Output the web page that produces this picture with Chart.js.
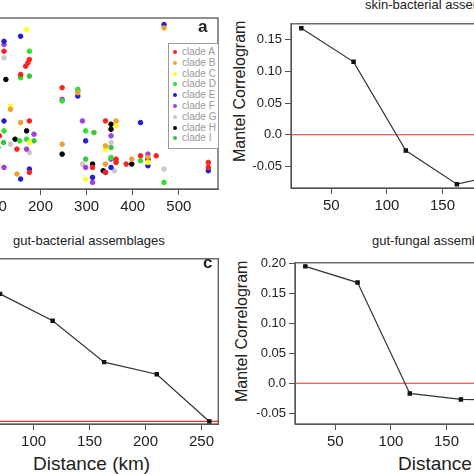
<!DOCTYPE html>
<html><head><meta charset="utf-8">
<script src="https://cdn.jsdelivr.net/npm/chart.js@4.4.1/dist/chart.umd.min.js"></script>
<style>
html,body{margin:0;padding:0;width:474px;height:474px;overflow:hidden;background:#fff;font-family:"Liberation Sans",Arial,sans-serif;position:relative}
.box{position:absolute}
.t{position:absolute;white-space:nowrap;color:#222}
.rot{transform:rotate(-90deg);transform-origin:left top}
#legend{position:absolute;left:168px;top:43px;width:51px;height:106px;border:1px solid #999;background:#fff;font-size:10px;color:#999;box-sizing:border-box;padding:3px 0 0 3px;z-index:2;overflow:hidden}
#legend div{height:10.8px;line-height:10.8px;white-space:nowrap}
#legend span{display:inline-block;width:4px;height:4px;border-radius:50%;margin:0 5px 1px 1px}
</style></head><body>
<div id="legend"></div>
<div class="t" style="left:198px;top:17px;font-size:17px;font-weight:bold;z-index:2">a</div>
<div class="t" style="left:203px;top:253px;font-size:17px;font-weight:bold;z-index:2">c</div>
<div class="t" style="left:365px;top:-3px;font-size:13px">skin-bacterial assemblages</div>
<div class="t" style="left:13px;top:233px;font-size:13px">gut-bacterial assemblages</div>
<div class="t" style="left:372px;top:233px;font-size:13px">gut-fungal assemblages</div>
<div class="t" style="left:33px;top:453px;font-size:19px">Distance (km)</div>
<div class="t" style="left:398px;top:453px;font-size:19px">Distance (km)</div>
<div class="t rot" style="left:231px;top:162px;font-size:16px">Mantel Correlogram</div>
<div class="t rot" style="left:233px;top:402px;font-size:16px">Mantel Correlogram</div>
<div class="box" id="pa"><canvas id="ca"></canvas></div>
<div class="box" id="pb"><canvas id="cb"></canvas></div>
<div class="box" id="pc"><canvas id="cc"></canvas></div>
<div class="box" id="pd"><canvas id="cd"></canvas></div>
<script>
// ---- data ----
const clades = ["clade A","clade B","clade C","clade D","clade E","clade F","clade G","clade H","clade I"];
const cladeColors = ["#ff2020","#f0a030","#ffff20","#30e030","#2020d0","#a040e0","#c8c8c8","#000000","#40c040"];
const cladeA = [[121,83],[168,74],[173,76],[176,78],[157,69],[247,61],[341,41],[176,41],[111,32],[149,24],[364,18],[364,16],[386,15],[417,20],[451,20],[341,10],[313,13],[564,16],[564,13],[176,10]];
const cladeB = [[468,97],[135,48],[157,40],[281,58],[341,26],[364,41],[398,18],[433,19],[341,15],[149,9],[247,27]];
const cladeC = [[170,96],[135,50],[176,28],[364,38],[341,24],[298,6],[433,16],[108,15]];
const cladeD = [[176,83],[157,67],[121,35],[298,35],[247,53],[281,60],[353,19],[417,17],[468,4],[364,17],[155,29],[170,30],[108,25]];
const cladeE = [[468,99],[121,89],[157,92],[121,41],[298,29],[433,14],[417,40],[157,6],[176,12],[281,56],[341,10],[353,13],[313,7],[564,11]];
const cladeF = [[121,87],[247,54],[291,41],[433,21],[353,32],[298,13],[121,13],[313,4],[186,33],[170,24],[353,18]];
const cladeG = [[121,79],[468,12],[353,28],[176,22],[360,11],[291,15],[135,27]];
const cladeH = [[125,66],[170,35],[247,21],[353,36],[353,39],[313,15],[336,11],[433,18],[398,15],[145,30]];
const cladeI = [[157,68],[176,68],[316,34],[298,18],[353,25],[186,29],[281,59],[120,28]];
const cladeData = [cladeA,cladeB,cladeC,cladeD,cladeE,cladeF,cladeG,cladeH,cladeI];

const distance = [23,70,117,163,210,257];
const skinBact = [0.168,0.115,-0.025,-0.078,-0.06,-0.04];
const gutBact = [0.25,0.2,0.158,0.093,0.074,0.0];
const gutFungal = [0.195,0.168,-0.017,-0.027,-0.028,-0.03];

// ---- helpers ----
const boxPlugin = {id:'box',afterDraw(c){const a=c.chartArea,x=c.ctx;x.save();x.strokeStyle='#555';x.lineWidth=1.3;x.strokeRect(a.left,a.top,a.right-a.left,a.bottom-a.top);x.restore();}};
function place(id,left,top,w,h){const e=document.getElementById(id);Object.assign(e.style,{left:left+'px',top:top+'px',width:w+'px',height:h+'px'});}
function stepTicks(min,max,step){const out=[];for(let v=Math.ceil(min/step-1e-9)*step;v<=max+1e-9;v+=step)out.push({value:Math.round(v*1000)/1000});return out;}
function xAxis(min,max,step){return {type:'linear',min,max,
  afterBuildTicks:s=>{s.ticks=stepTicks(min,max,step).filter(t=>t.value>0);},
  afterFit:s=>{s.height=40;},
  ticks:{font:{size:15,family:'Liberation Sans'},color:'#222',padding:3,maxRotation:0,autoSkip:false},
  grid:{drawOnChartArea:false,tickLength:6,color:'#555'},border:{color:'#555'}};}
function yAxis(min,max){return {type:'linear',min,max,
  afterBuildTicks:s=>{s.ticks=stepTicks(min,max,0.05);},
  afterFit:s=>{s.width=45;},
  ticks:{font:{size:13,family:'Liberation Sans'},color:'#222',padding:3,
    callback:v=>Math.abs(v)<1e-9?'0.0':v.toFixed(2)},
  grid:{drawOnChartArea:false,tickLength:6,color:'#555'},border:{color:'#555'}};}
const base={responsive:true,maintainAspectRatio:false,animation:false,
  layout:{padding:0},plugins:{legend:{display:false},tooltip:{enabled:false}}};
function mantel(id,vals,xmin,xmax,ymin,ymax){
  return new Chart(document.getElementById(id),{type:'scatter',
    data:{datasets:[
      {data:distance.map((d,i)=>({x:d,y:vals[i]})),showLine:true,borderColor:'#333',borderWidth:1.2,
       pointStyle:'rect',pointRadius:2.3,pointBackgroundColor:'#111',pointBorderColor:'#111'},
      {data:[{x:xmin,y:0},{x:xmax,y:0}],showLine:true,borderColor:'#e03030',borderWidth:1.2,pointRadius:0}]},
    options:{...base,scales:{x:xAxis(xmin,xmax,50),y:yAxis(ymin,ymax)}},plugins:[boxPlugin]});
}

// panel a
place('pa',-61-45,13,45+284,176+40);
new Chart(document.getElementById('ca'),{type:'scatter',
  data:{datasets:cladeData.map((d,i)=>({label:clades[i],data:d.map(p=>({x:p[0],y:p[1]})),
    pointRadius:2.3,pointBackgroundColor:cladeColors[i],pointBorderColor:cladeColors[i]}))},
  options:{...base,scales:{x:xAxis(-20,585,100),y:{min:0,max:103,display:true,afterFit:s=>{s.width=45;},ticks:{display:false},grid:{display:false},border:{display:false}}}},
  plugins:[boxPlugin]});
const lg=document.getElementById('legend');
clades.forEach((c,i)=>{lg.innerHTML+=`<div><span style="background:${cladeColors[i]}"></span>${c}</div>`;});

// panel b
place('pb',291-45,13,45+290,175+40);
mantel('cb',skinBact,13.7,270,-0.084,0.175);

// panel c
const cw=(265-13.7)*1.14;
place('pc',223-45-cw,248,45+cw,176+40);
mantel('cc',gutBact,13.7,265,-0.004,0.255);

// panel d
place('pd',295-45,252,45+290,172+40);
mantel('cd',gutFungal,13.7,270,-0.068,0.201);
</script>
</body></html>
